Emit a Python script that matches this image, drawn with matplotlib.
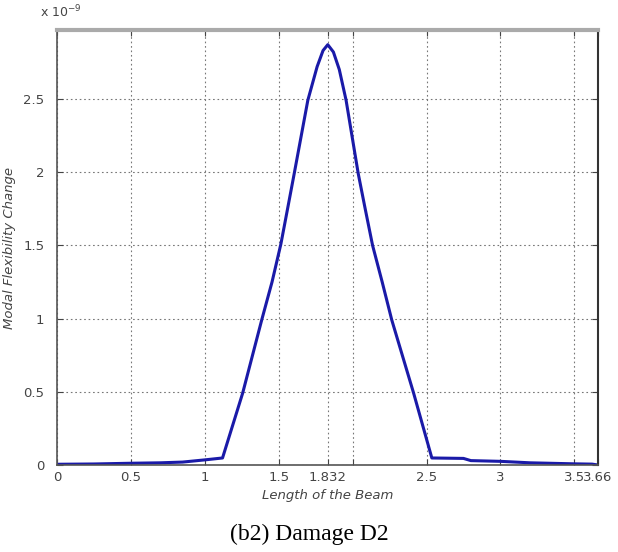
import matplotlib.pyplot as plt

# curve (y in units of 1e-9)
beam_x = [0.0, 0.25, 0.5, 0.7, 0.85, 1.0, 1.12, 1.256, 1.385, 1.455, 1.515, 1.562, 1.605, 1.697,
          1.76, 1.80, 1.832, 1.87, 1.91, 1.956, 2.038, 2.085, 2.135, 2.20, 2.265, 2.413, 2.536,
          2.75, 2.8, 3.0, 3.2, 3.5, 3.62, 3.66]
flex_change = [0.005, 0.007, 0.012, 0.015, 0.02, 0.035, 0.048, 0.49, 0.99, 1.25, 1.51, 1.76, 1.99, 2.49,
               2.72, 2.83, 2.87, 2.82, 2.70, 2.49, 1.99, 1.75, 1.50, 1.25, 0.99, 0.49, 0.048,
               0.045, 0.03, 0.025, 0.015, 0.008, 0.006, 0.0]

x_ticks = [0, 0.5, 1, 1.5, 1.832, 2, 2.5, 3, 3.5, 3.66]
x_tick_labels = ["0", "0.5", "1", "1.5", "1.832", "", "2.5", "3", "3.5", "3.66"]
y_ticks = [0, 0.5, 1, 1.5, 2, 2.5]
y_tick_labels = ["0", "0.5", "1", "1.5", "2", "2.5"]

plt.rcParams["font.family"] = ["DejaVu Sans"]

fig = plt.figure(figsize=(6.18, 5.52), dpi=100)
ax = fig.add_axes([0.0922, 0.1576, 0.8754, 0.788])

ax.plot(beam_x, flex_change, color="#1a1aa8", linewidth=2.2, solid_joinstyle="round")

ax.set_xlim(0, 3.66)
ax.set_ylim(0, 2.97)
ax.set_xticks(x_ticks)
ax.set_xticklabels(x_tick_labels)
ax.set_yticks(y_ticks)
ax.set_yticklabels(y_tick_labels)
ax.tick_params(direction="in", top=True, right=True, length=4, labelsize=9.5,
               colors="#444444")
ax.tick_params(axis="x", pad=4)
ax.tick_params(axis="y", pad=9)
ax.grid(True, linestyle=(0, (1.5, 2.5)), color="#777777", linewidth=0.8)

for side in ["left", "bottom"]:
    ax.spines[side].set_color("#555555")
    ax.spines[side].set_linewidth(1.2)
ax.spines["top"].set_color("#aaaaaa")
ax.spines["top"].set_linewidth(3)
ax.spines["right"].set_color("#333333")
ax.spines["right"].set_linewidth(1.5)

ax.set_xlabel("Length of the Beam", fontsize=9.5, style="italic", color="#444444", labelpad=4)
ax.set_ylabel("Modal Flexibility Change", fontsize=9.5, style="italic", color="#444444", labelpad=5)

fig.text(0.065, 0.963, r"x 10$^{-9}$", fontsize=9, color="#444444", va="bottom")
fig.text(0.50, 0.032, "(b2) Damage D2", fontsize=17, ha="center", va="center",
         family=["Liberation Serif", "DejaVu Serif"])

fig.savefig("out.png", dpi=100)
